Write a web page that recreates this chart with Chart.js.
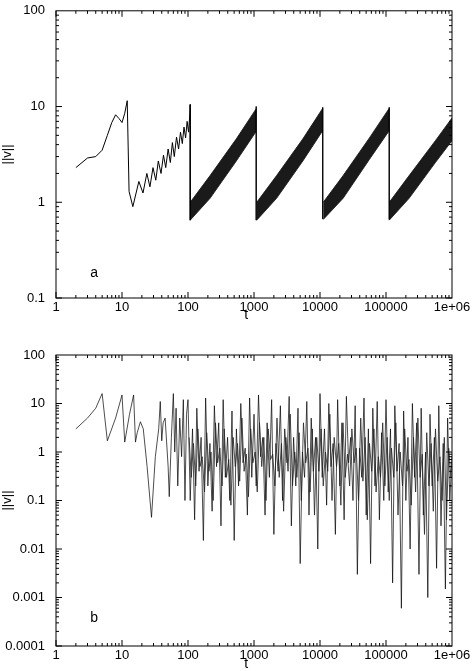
<!DOCTYPE html>
<html><head><meta charset="utf-8">
<script src="https://cdn.jsdelivr.net/npm/chart.js@4/dist/chart.umd.min.js"></script>
<style>body{margin:0;background:#fff}#a{position:absolute;left:0;top:0}#b{position:absolute;left:0;top:340px}</style>
</head><body>
<div id="a" style="width:474px;height:320px"><canvas id="ca"></canvas></div>
<div id="b" style="width:474px;height:331px"><canvas id="cb"></canvas></div>
<script>
// ---- data ----
const xTicks = [1,10,100,1000,10000,100000,1000000];
const xTickLabels = ['1','10','100','1000','10000','100000','1e+06'];
const yTicksA = [0.1,1,10,100];
const yTickLabelsA = ['0.1','1','10','100'];
const yTicksB = [0.0001,0.001,0.01,0.1,1,10,100];
const yTickLabelsB = ['0.0001','0.001','0.01','0.1','1','10','100'];

// panel a: early trajectory
const tA = [2,3,4,5,6,7,8,9,10,11,12,12.8,14.6,18,20.8,23.8,26.5,29.5,32.5,35.5,39,42.5,46,50,54,58,62,67,72,77,82,87,92,97,102,107,108,108];
const vA = [2.3,2.9,3,3.5,5,6.8,8.2,7.5,6.8,8.5,11.5,1.3,0.9,1.65,1.25,2,1.45,2.3,1.7,2.7,2,3.1,2.3,3.6,2.6,4.2,3,4.8,3.6,5.4,4.1,6.1,4.7,7,5.4,8.6,10.5,0.65];
// panel a: dense oscillation bands
const bandT = [[108,216,540,1080],[1100,2200,5500,11000],[11200,22400,56000,112000],[112000,224000,560000,1000000]];
const bandUpper = [[1.0,1.9,4.6,9.5],[1.0,1.9,4.6,9.6],[1.0,1.9,4.7,9.6],[1.0,1.9,4.4,7.6]];
const bandLower = [[0.65,1.1,2.7,5.5],[0.65,1.1,2.7,5.6],[0.66,1.1,2.8,5.6],[0.65,1.1,2.6,4.4]];
const dropT = [1080,1080,null,11000,11000,null,112000,112000];
const dropV = [10,0.65,null,9.8,0.67,null,9.8,0.66];

// panel b
const tB0 = [2,3,4,5,6,8,10,11,13,15,16,17,19,21,24,28,32,36,38,40,42,45,50,52,56,60,63,66,70,75,80,85,90,95];
const vB0 = [3,5,8,16,1.7,5,15,1.6,6,15,1.6,2.5,4.2,3,0.5,0.045,0.8,3,11,1.7,4,5,0.5,0.12,2,16,1,8,0.2,5,0.8,12,0.1,6];
const mant = [1.00,1.08,1.17,1.26,1.36,1.47,1.58,1.71,1.85,2.00,2.15,2.32,2.51,2.71,2.92,3.16,3.41,3.68,3.98,4.30,4.64,5.01,5.41,5.84,6.31,6.81,7.36,7.94,8.58,9.26];
const vB2 = [12,0.1,3,0.04,8,0.4,2,0.015,13,0.2,1.5,0.06,9,0.5,4,0.03,12,0.3,2,0.1,7,0.015,3,0.2,10,0.6,1.2,0.05,13,0.3];
const vB3 = [6,0.2,15,0.8,2,0.05,4,0.3,12,0.02,1.5,0.4,9,0.1,3,0.6,14,0.03,2,0.2,8,0.005,1,0.3,11,0.05,5,0.4,2,0.01];
const vB4 = [16,0.3,3,0.08,10,0.5,1.5,0.02,12,0.2,4,0.04,14,0.6,2,0.1,9,0.003,1.2,0.3,13,0.05,3,0.005,8,0.2,11,0.04,2.5,0.1];
const vB5 = [12,0.15,3,0.002,9,0.4,1.5,0.0006,7,0.1,2,0.01,10,0.3,4,0.003,8,0.05,1,0.001,6,0.2,2,0.004,9,0.03,1.5,0.0015,5,0.1];
const vBend = 0.8;
const mantMid = [1.04,1.12,1.21,1.31,1.41,1.52,1.64,1.78,1.92,2.07,2.23,2.41,2.61,2.81,3.04,3.28,3.54,3.83,4.14,4.47,4.83,5.21,5.62,6.07,6.56,7.08,7.65,8.25,8.91,9.62];
const vM2 = [2,0.3,1.5,0.2,3,0.5,0.8,0.15,2.5,0.4,1,0.1,4,0.6,1.2,0.2,3,0.3,0.7,0.08,2,0.5,1.5,0.25,5,0.4,0.9,0.12,3,0.6];
const vM3 = [1,0.15,4,0.5,2,0.1,3,0.7,0.9,0.2,5,0.3,1.5,0.06,2,0.4,6,0.2,1,0.3,2.5,0.1,4,0.6,1.2,0.15,3,0.05,2,0.4];
const vM4 = [3,0.2,1,0.4,6,0.1,2,0.5,1.5,0.08,4,0.3,0.9,0.2,3,0.6,1.2,0.1,5,0.25,2,0.04,1.5,0.4,3,0.15,0.8,0.3,4,0.2];
const vM5 = [2,0.1,1.2,0.3,4,0.05,1,0.2,3,0.4,0.7,0.08,2,0.15,5,0.3,0.9,0.02,2.5,0.2,1.5,0.06,3,0.25,0.8,0.1,2,0.04,1.2,0.3];

// ---- build ----
const FONT = 'Liberation Sans';
function pts(ts, vs){ return ts.map((t,i)=> t===null ? {x:null,y:null} : {x:t,y:vs[i]}); }
const ptsB = pts(tB0,vB0);
[[100,vB2],[1000,vB3],[10000,vB4],[100000,vB5]].forEach(([d,vs])=>{ mant.forEach((m,i)=>ptsB.push({x:m*d,y:vs[i]})); });
ptsB.push({x:1000000,y:vBend});
const ptsM = [];
[[100,vM2],[1000,vM3],[10000,vM4],[100000,vM5]].forEach(([d,vs])=>{ mantMid.forEach((m,i)=>ptsM.push({x:m*d,y:vs[i]})); });

const deco = {
  id:'deco',
  afterDraw(c){
    const ctx=c.ctx, a=c.chartArea, xs=c.scales.x, ys=c.scales.y;
    ctx.save(); ctx.strokeStyle='#000'; ctx.lineWidth=1;
    ctx.strokeRect(a.left,a.top,a.right-a.left,a.bottom-a.top);
    ctx.beginPath();
    const tick=(p,len,vertical)=>{
      if(vertical){ ctx.moveTo(p,a.bottom); ctx.lineTo(p,a.bottom-len); ctx.moveTo(p,a.top); ctx.lineTo(p,a.top+len); }
      else { ctx.moveTo(a.left,p); ctx.lineTo(a.left+len,p); ctx.moveTo(a.right,p); ctx.lineTo(a.right-len,p); }
    };
    for(let e=0;e<6;e++){ for(let k=1;k<10;k++){ const v=k*Math.pow(10,e); if(v>1e6) break; tick(xs.getPixelForValue(v),k===1?6:3,true);} }
    const yl=Math.log10(ys.min), yh=Math.log10(ys.max);
    for(let e=Math.round(yl);e<Math.round(yh);e++){ for(let k=1;k<10;k++){ tick(ys.getPixelForValue(k*Math.pow(10,e)),k===1?6:3,false);} }
    ctx.stroke();
    const o=c.options.plugins.deco;
    ctx.fillStyle='#000'; ctx.font='14px "'+FONT+'"'; ctx.textAlign='center'; ctx.textBaseline='middle';
    ctx.fillText(o.label, xs.getPixelForValue(o.lx), ys.getPixelForValue(o.ly));
    ctx.fillText('t', a.left+(a.right-a.left)*0.48, a.bottom+o.tOff);
    ctx.restore();
  }
};

function axes(yMin,yMax,yT,yL,xh){
  return {
    x:{type:'logarithmic',min:1,max:1000000,
      afterBuildTicks(s){ s.ticks=xTicks.map(v=>({value:v})); },
      afterFit(s){ s.height=xh; },
      ticks:{autoSkip:false,maxRotation:0,color:'#000',padding:0,font:{family:FONT,size:13},callback:(v)=>xTickLabels[xTicks.indexOf(v)]},
      grid:{display:false,tickLength:2}, border:{display:false}},
    y:{type:'logarithmic',min:yMin,max:yMax,
      afterBuildTicks(s){ s.ticks=yT.map(v=>({value:v})); },
      afterFit(s){ s.width=56; },
      ticks:{autoSkip:false,color:'#000',padding:3,font:{family:FONT,size:13},callback:(v)=>yL[yT.indexOf(v)]},
      grid:{display:false}, border:{display:false},
      title:{display:true,text:'||v||',color:'#000',padding:0,font:{family:FONT,size:13}}}
  };
}
const lineDs=(data,w,col)=>({data,borderColor:col||'#000',borderWidth:w,pointRadius:0,fill:false,tension:0,spanGaps:false});

const dsA=[lineDs(pts(tA,vA),1), lineDs(pts(dropT,dropV),0.8)];
bandT.forEach((ts,i)=>{
  dsA.push({data:pts(ts,bandUpper[i]),borderColor:'#111',borderWidth:0.8,backgroundColor:'#1a1a1a',pointRadius:0,fill:'+1',tension:0});
  dsA.push({data:pts(ts,bandLower[i]),borderColor:'#111',borderWidth:0.8,pointRadius:0,fill:false,tension:0});
});

Chart.defaults.animation=false;
new Chart(document.getElementById('ca'),{
  type:'line', data:{datasets:dsA},
  options:{responsive:true,maintainAspectRatio:false,
    layout:{padding:{top:7,right:22,bottom:0,left:0}},
    plugins:{legend:{display:false},tooltip:{enabled:false},deco:{label:'a',lx:3.8,ly:0.18,tOff:17}},
    scales:axes(0.1,100,yTicksA,yTickLabelsA,22)},
  plugins:[deco]});
new Chart(document.getElementById('cb'),{
  type:'line', data:{datasets:[lineDs(ptsM,0.8,'#222'),lineDs(ptsB,0.7)]},
  options:{responsive:true,maintainAspectRatio:false,
    layout:{padding:{top:15,right:22,bottom:0,left:0}},
    plugins:{legend:{display:false},tooltip:{enabled:false},deco:{label:'b',lx:3.8,ly:0.00038,tOff:18}},
    scales:axes(0.0001,100,yTicksB,yTickLabelsB,25)},
  plugins:[deco]});
</script>
</body></html>
